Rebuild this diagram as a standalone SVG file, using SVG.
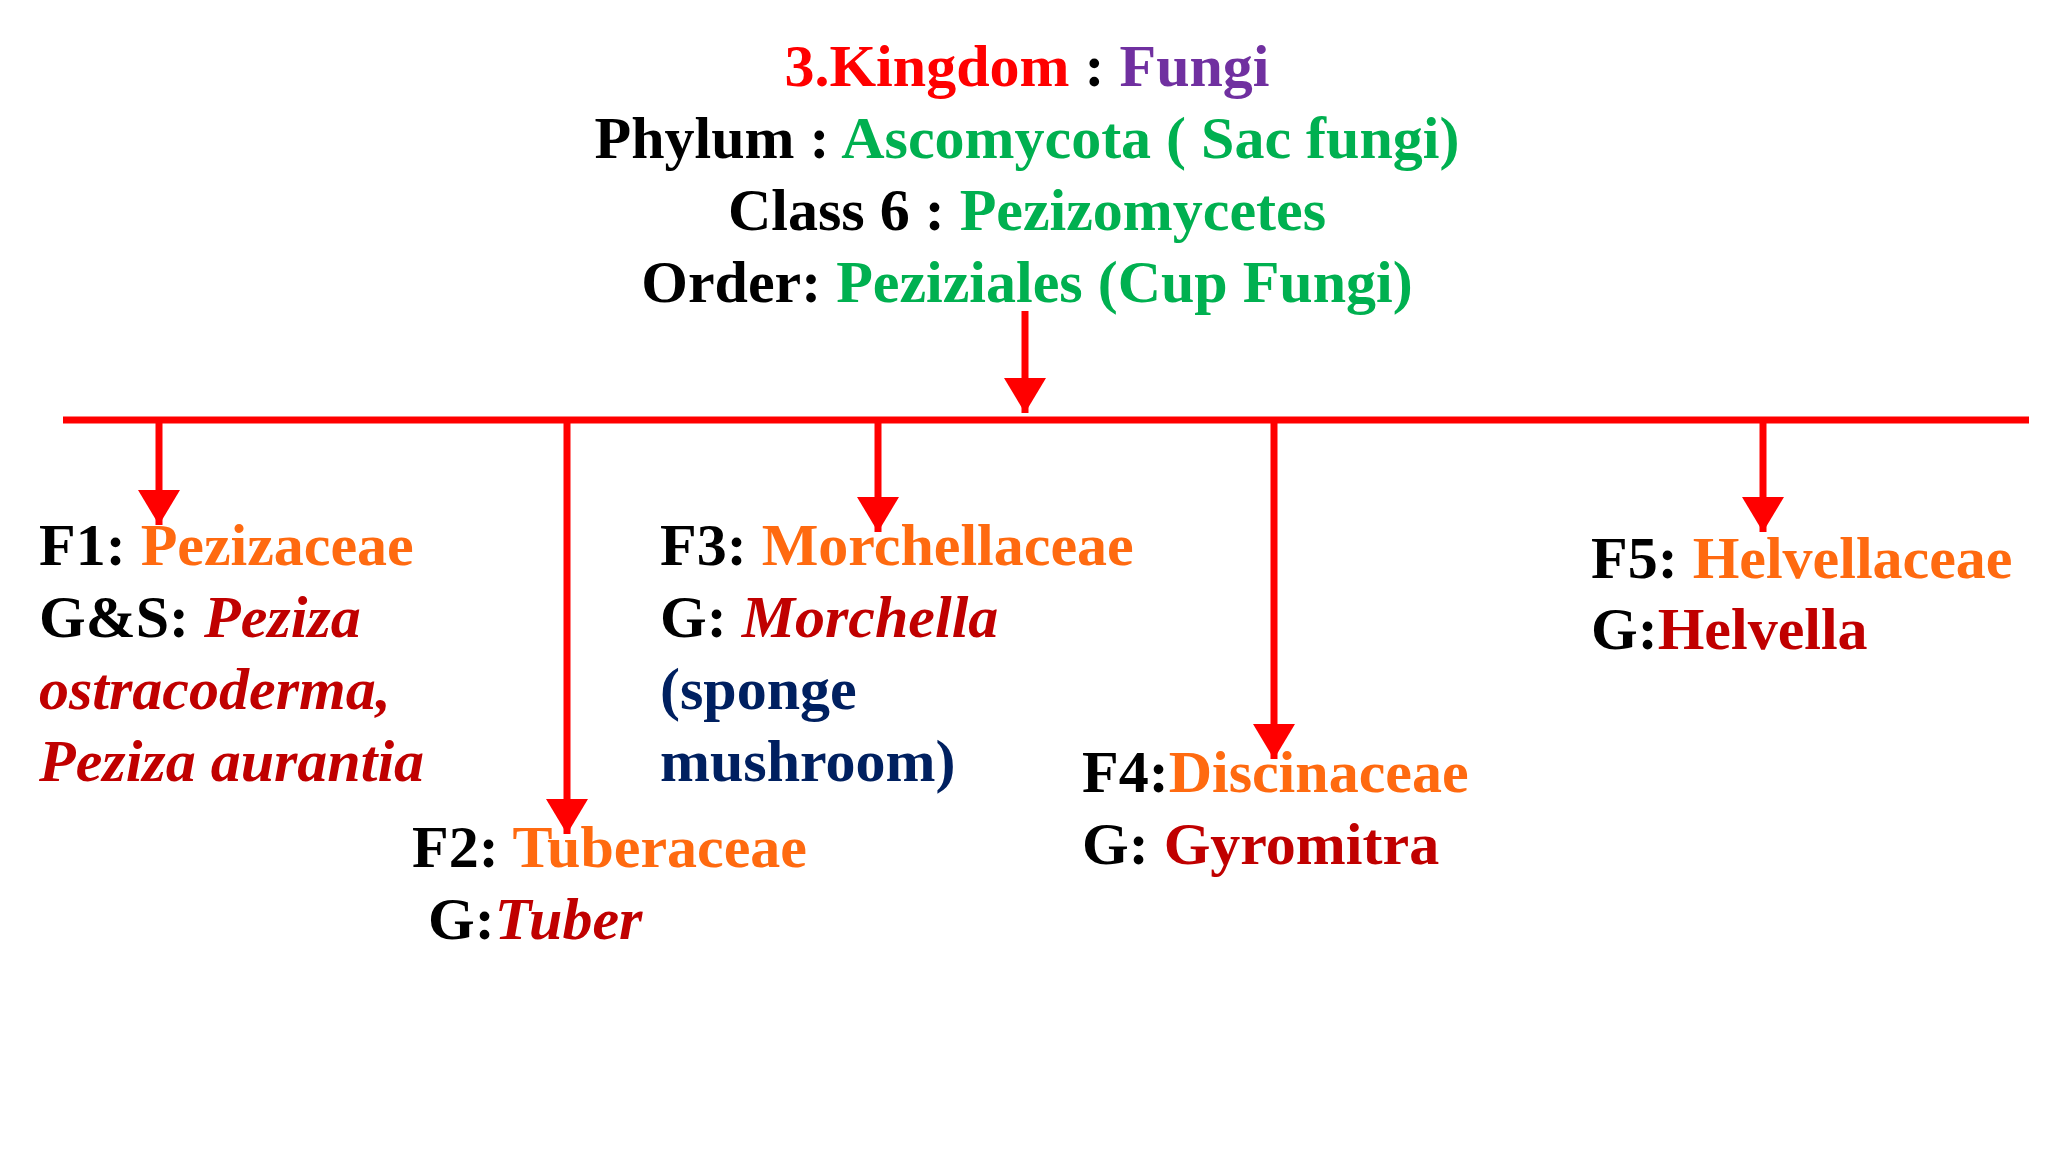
<svg xmlns="http://www.w3.org/2000/svg" width="2048" height="1152" viewBox="0 0 2048 1152">
<defs>
<style>
text{font-family:"Liberation Serif","Times New Roman",serif;font-weight:bold;font-size:60px;fill:#000}
.t{text-anchor:middle}
.r{fill:#ff0000}.p{fill:#7030a0}.g{fill:#00b050}.o{fill:#ff6a10}.d{fill:#c00000}.n{fill:#002060}
.i{font-style:italic}
.ln{stroke:#ff0000;stroke-width:7;fill:none}
</style>
<marker id="ah" markerWidth="6" markerHeight="6" refX="5" refY="3" orient="auto" markerUnits="strokeWidth"><path d="M0,0L5,3L0,6z" fill="#ff0000"/></marker>
</defs>
<rect width="2048" height="1152" fill="#fff"/>
<g id="header">
<text class="t" x="1027" y="86"><tspan class="r">3.Kingdom</tspan> : <tspan class="p">Fungi</tspan></text>
<text class="t" x="1027" y="158">Phylum : <tspan class="g">Ascomycota ( Sac fungi)</tspan></text>
<text class="t" x="1027" y="230">Class 6 : <tspan class="g">Pezizomycetes</tspan></text>
<text class="t" x="1027" y="302">Order: <tspan class="g">Peziziales (Cup Fungi)</tspan></text>
</g>
<g id="connectors">
<line class="ln" x1="63" y1="420" x2="2029" y2="420"/>
<line class="ln" x1="1025" y1="311" x2="1025" y2="413" marker-end="url(#ah)"/>
<line class="ln" x1="159" y1="420" x2="159" y2="525" marker-end="url(#ah)"/>
<line class="ln" x1="567" y1="420" x2="567" y2="834" marker-end="url(#ah)"/>
<line class="ln" x1="878" y1="420" x2="878" y2="532" marker-end="url(#ah)"/>
<line class="ln" x1="1274" y1="420" x2="1274" y2="759" marker-end="url(#ah)"/>
<line class="ln" x1="1763" y1="420" x2="1763" y2="532" marker-end="url(#ah)"/>
</g>
<g id="f1">
<text x="39" y="565">F1: <tspan class="o">Pezizaceae</tspan></text>
<text x="39" y="637">G&amp;S: <tspan class="d i">Peziza</tspan></text>
<text x="39" y="709" class="d i">ostracoderma,</text>
<text x="39" y="781" class="d i">Peziza aurantia</text>
</g>
<g id="f2">
<text x="412" y="867">F2: <tspan class="o">Tuberaceae</tspan></text>
<text x="428" y="939">G:<tspan class="d i">Tuber</tspan></text>
</g>
<g id="f3">
<text x="660" y="565">F3: <tspan class="o">Morchellaceae</tspan></text>
<text x="660" y="637">G: <tspan class="d i">Morchella</tspan></text>
<text x="660" y="709" class="n">(sponge</text>
<text x="660" y="781" class="n">mushroom)</text>
</g>
<g id="f4">
<text x="1082" y="792">F4:<tspan class="o">Discinaceae</tspan></text>
<text x="1082" y="864">G: <tspan class="d">Gyromitra</tspan></text>
</g>
<g id="f5">
<text x="1591" y="578">F5: <tspan class="o">Helvellaceae</tspan></text>
<text x="1591" y="649">G:<tspan class="d">Helvella</tspan></text>
</g>
</svg>
